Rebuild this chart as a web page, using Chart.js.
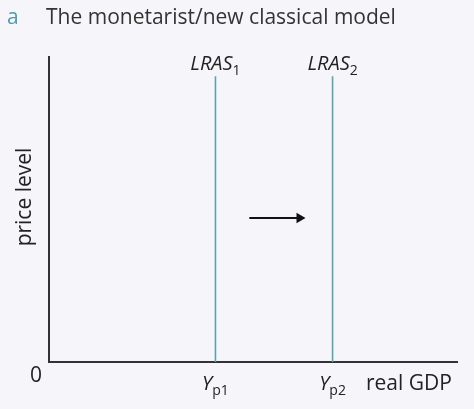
<!DOCTYPE html>
<html><head><meta charset="utf-8">
<script src="https://cdn.jsdelivr.net/npm/chart.js@4"></script>
<style>html,body{margin:0;padding:0;background:#f6f6fa}#w{width:474px;height:409px;position:relative}</style>
</head><body><div id="w"><canvas id="c"></canvas></div>
<script>
const Yp1 = 40.8, Yp2 = 69.5;
const lrasTop = 93.7;
const arrowX = [49.1, 61.4];
const arrowY = 47.2;
const xTickLabels = ['Yp1','Yp2'];
const F = '"Open Sans","Noto Sans",sans-serif';
const teal = '#5aa3ad';
const labels = {
  id:'labels',
  afterDraw(ch){
    const c=ch.ctx, xs=ch.scales.x, ys=ch.scales.y;
    c.save();
    c.fillStyle='#4a9db0'; c.font='21px '+F; c.textBaseline='alphabetic';
    c.fillText('a',7,24);
    c.fillStyle='#333'; c.fillText('The monetarist/new classical model',46,24);
    function sub(main, s, cx, y){
      c.font='italic 20px '+F; const w=c.measureText(main).width;
      c.font='14px '+F; const w2=c.measureText(s).width;
      const x0=cx-(w+w2)/2;
      c.font='italic 20px '+F; c.fillText(main,x0,y);
      c.font='14px '+F; c.fillText(s,x0+w,y+5);
    }
    c.fillStyle='#222';
    sub('LRAS','1',xs.getPixelForValue(Yp1),70);
    sub('LRAS','2',xs.getPixelForValue(Yp2),70);
    const by=ys.getPixelForValue(0);
    sub('Y','p1',xs.getPixelForValue(Yp1),by+28);
    sub('Y','p2',xs.getPixelForValue(Yp2),by+28);
    c.font='21px '+F; c.fillText('real GDP',366,by+28);
    c.fillText('0',30,by+20);
    c.translate(31,197); c.rotate(-Math.PI/2); c.textAlign='center';
    c.fillText('price level',0,0);
    c.restore();
  }
};
new Chart(document.getElementById('c'),{
  type:'scatter',
  data:{datasets:[
    {data:[{x:Yp1,y:0},{x:Yp1,y:lrasTop}],showLine:true,borderColor:teal,borderWidth:1.6,pointRadius:0},
    {data:[{x:Yp2,y:0},{x:Yp2,y:lrasTop}],showLine:true,borderColor:teal,borderWidth:1.6,pointRadius:0},
    {data:[{x:arrowX[0],y:arrowY},{x:arrowX[1],y:arrowY}],showLine:true,borderColor:'#111',borderWidth:2,
     pointRadius:[0,6],pointStyle:'triangle',rotation:90,backgroundColor:'#111',pointBorderWidth:0}
  ]},
  options:{responsive:true,maintainAspectRatio:false,animation:false,
    layout:{padding:{left:49,top:57,right:17,bottom:47}},
    plugins:{legend:{display:false},tooltip:{enabled:false}},
    scales:{
      x:{type:'linear',min:0,max:100,ticks:{display:false},grid:{display:false,drawTicks:false},border:{color:'#333',width:2}},
      y:{type:'linear',min:0,max:100,ticks:{display:false},grid:{display:false,drawTicks:false},border:{color:'#333',width:2}}
    }},
  plugins:[labels]
});
</script></body></html>
